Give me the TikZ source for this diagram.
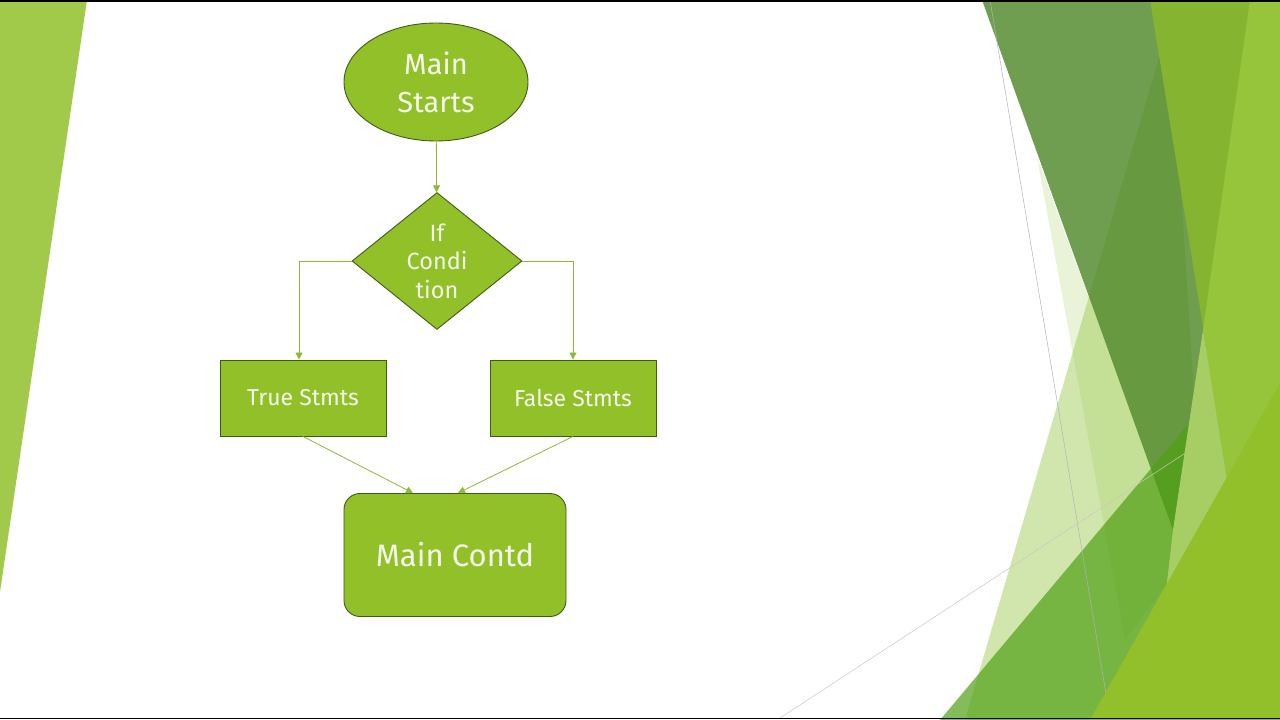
\documentclass[tikz,border=0pt]{standalone}
\usepackage{fontspec}
\setmainfont{Fira Sans}
\usetikzlibrary{shapes.geometric,arrows.meta}
\definecolor{leaf}{RGB}{146,192,40}
\definecolor{leafedge}{RGB}{62,92,24}
\definecolor{leafline}{RGB}{140,186,56}
\definecolor{sidegreen}{RGB}{161,201,74}
\definecolor{palegreen}{RGB}{146,196,60}
\definecolor{bandgreen}{RGB}{76,134,36}
\definecolor{midgreen}{RGB}{80,160,20}
\definecolor{olivegreen}{RGB}{133,180,48}
\definecolor{tallgreen}{RGB}{150,197,60}
\definecolor{patchgreen}{RGB}{166,206,100}
\definecolor{brightgreen}{RGB}{146,192,42}
\definecolor{whitetext}{RGB}{246,250,238}
\begin{document}
\begin{tikzpicture}[x=1pt,y=-1pt,
    shape base/.style={fill=leaf,draw=leafedge,line width=0.9pt,text=whitetext,align=center,inner sep=0pt},
    startstop/.style={shape base,ellipse,minimum width=184pt,minimum height=118pt,font=\fontsize{29}{38}\selectfont},
    decision/.style={shape base,diamond,minimum width=170pt,minimum height=137pt,font=\fontsize{23.5}{28.5}\selectfont},
    stmtbox/.style={shape base,rectangle,minimum width=166pt,minimum height=76pt,font=\fontsize{23}{28}\selectfont},
    contdbox/.style={shape base,rectangle,rounded corners=16pt,minimum width=222pt,minimum height=123pt,font=\fontsize{31}{36}\selectfont},
    link/.style={draw=leafline,line width=0.8pt,-{Triangle[width=7pt,length=7pt]}}]
    \useasboundingbox (0,0) rectangle (1280,720);
    % background facets
    \fill[sidegreen] (0,0) -- (87,0) -- (0,592) -- cycle;
    \fill[palegreen,opacity=0.42] (1170,20) -- (1215,720) -- (965,720) -- cycle;
    \fill[palegreen,opacity=0.2] (1037,157) -- (1125,640) -- (1185,560) -- cycle;
    \fill[bandgreen,opacity=0.8] (982,0) -- (1180,0) -- (1215,330) -- (1173,530) -- cycle;
    \fill[midgreen,opacity=0.7] (940,720) -- (1280,315) -- (1280,720) -- cycle;
    \draw[gray!60,line width=0.5pt] (990,0) -- (1107,700);
    \draw[gray!45,line width=0.5pt] (780,718) -- (1190,450);
    \fill[olivegreen] (1150,0) -- (1262,0) -- (1206,345) -- cycle;
    \fill[tallgreen] (1250,0) -- (1280,0) -- (1280,400) -- (1228,500) -- (1203,330) -- cycle;
    \fill[patchgreen] (1203,330) -- (1230,500) -- (1165,600) -- (1173,530) -- cycle;
    \fill[brightgreen] (1090,720) -- (1280,383) -- (1280,720) -- cycle;
    \draw[black,line width=1.5pt] (0,0.75) -- (1280,0.75) (0,718.5) -- (1280,718.5);
    % flowchart
    \node[startstop] (start) at (436,82) {Main\\Starts};
    \node[decision] (cond) at (437,261) {If\\Condi\\tion};
    \node[stmtbox] (truebox) at (303,398) {True Stmts};
    \node[stmtbox] (falsebox) at (573,398) {False Stmts};
    \node[contdbox] (contd) at (455,555) {Main Contd};
    \draw[link] (start) -- (cond);
    \draw[link] (cond.west) -| ([xshift=-4pt]truebox.north);
    \draw[link] (cond.east) -| (falsebox.north);
    \draw[link] (truebox.south) -- ([xshift=-42pt]contd.north);
    \draw[link] (falsebox.south) -- ([xshift=3pt]contd.north);
\end{tikzpicture}
\end{document}
